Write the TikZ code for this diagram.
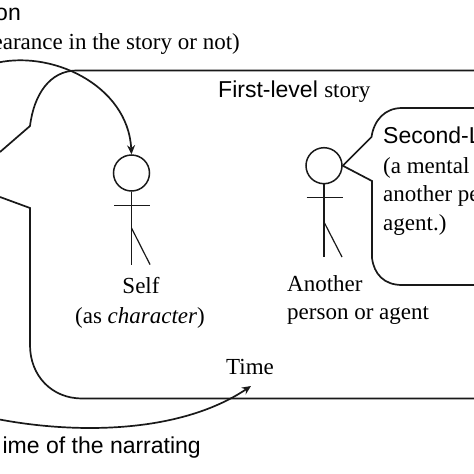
\documentclass[tikz,border=0pt]{standalone}
\usepackage{fontspec}
\setmainfont{Liberation Serif}
\newfontfamily\arialf{Liberation Sans}
\usetikzlibrary{arrows.meta}
\tikzset{
  serif/.style={anchor=base west,inner sep=0pt,font=\fontsize{23}{27}\selectfont},
  sans/.style={anchor=base west,inner sep=0pt,font=\arialf\fontsize{23}{27}\selectfont},
  outline/.style={line width=1.7pt,black!90},
  figline/.style={line width=1.2pt,black!90},
  headc/.style={circle,draw,line width=1.5pt,black!90,minimum size=36pt,inner sep=0pt},
  tip/.style={-{Stealth[length=9pt,width=8pt]}}
}
\begin{document}
\begin{tikzpicture}[x=1pt,y=-1pt]
\useasboundingbox (0,0) rectangle (474,474);
\clip (0,0) rectangle (474,474);
\fill[white] (0,0) rectangle (474,474);
% first-level story frame
\draw[outline] (0,152) -- (30,126) .. controls (34,94) and (50,71) .. (76,70.5) -- (474,70.5);
\draw[outline] (0,197) -- (30,208) -- (30,345) .. controls (30,376) and (52,398.5) .. (82,398.5) -- (474,398.5);
% self figure
\node[headc] (self) at (131.5,173) {};
\coordinate (selffoot) at (131.5,264.5);
\coordinate (selfhip) at (131.5,228);
\draw[figline] (self.south) -- (selffoot);
\draw[figline] (114,205.5) -- (150,205.5);
\draw[figline] (selfhip) -- (150,264.5);
% other figure
\node[headc] (other) at (324,165.7) {};
\coordinate (otherhip) at (324,222);
\draw[figline] (other.south) -- (324,257);
\draw[figline] (306.5,197.7) -- (342.5,197.7);
\draw[figline] (otherhip) -- (342,257);
% speech bubble
\draw[outline] (474,108) -- (402,108) .. controls (385,108) and (374,120) .. (371.5,137) -- (other.east) -- (372,181) -- (372,258) .. controls (374,274) and (384,285) .. (402,285) -- (474,285);
% arrows
\draw[outline,tip] (-8,64) .. controls (50,48) and (128,85) .. (self.north);
\coordinate (timetip) at (251,386);
\draw[outline,tip] (-8,418) .. controls (70,434) and (178,435) .. (timetip);
% texts
\node[sans,anchor=base east] (t1) at (21,20) {on};
\node[serif,anchor=base east] (t2) at (240,49) {earance in the story or not)};
\node[sans] (t3) at (218,97) {First-level\ \rmfamily story};
\node[serif,anchor=base] (t4) at (141,293) {Self};
\node[serif,anchor=base] (t5) at (140,323) {(as \textit{character})};
\node[serif] (t6) at (287,291) {Another};
\node[serif] (t7) at (287,319) {person or agent};
\node[serif] (t8) at (226,374) {Time};
\node[sans,anchor=base east] (t9) at (201,453) {ime of the narrating};
\node[sans] (t10) at (383,143) {Second-L};
\node[serif] (t11) at (383,173) {(a mental};
\node[serif] (t12) at (383,201) {another pe};
\node[serif] (t13) at (383,230) {agent.)};
\end{tikzpicture}
\end{document}
